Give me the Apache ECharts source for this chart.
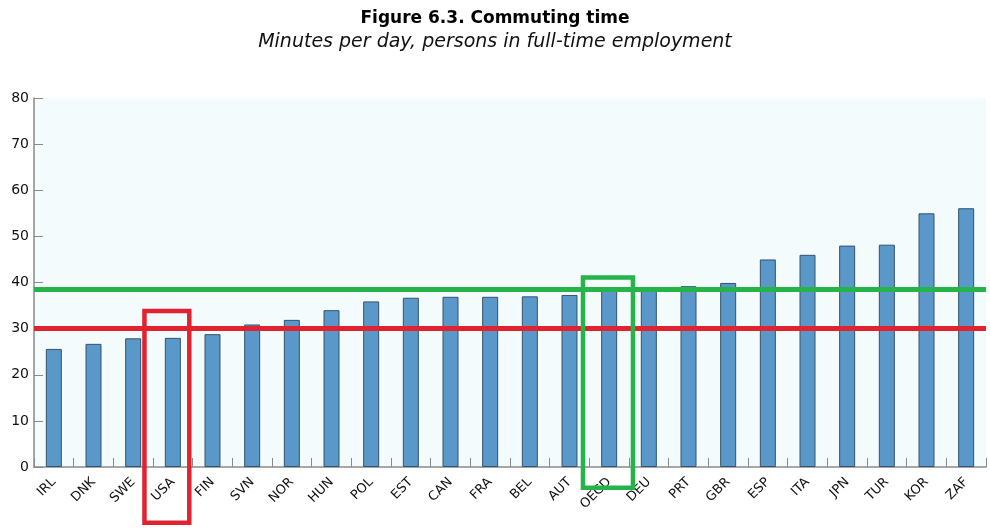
<!DOCTYPE html>
<html>
<head>
<meta charset="utf-8">
<script src="https://cdn.jsdelivr.net/npm/echarts@6/dist/echarts.min.js"></script>
<style>
html,body{margin:0;padding:0;background:#fff;}
#chart{width:990px;height:531px;}
</style>
</head>
<body>
<div id="chart"></div>
<script>
var categories = ['IRL','DNK','SWE','USA','FIN','SVN','NOR','HUN','POL','EST','CAN','FRA','BEL','AUT','OECD','DEU','PRT','GBR','ESP','ITA','JPN','TUR','KOR','ZAF'];
var values = [25.6, 26.7, 27.9, 28.0, 28.8, 30.9, 31.9, 34.0, 35.9, 36.7, 36.9, 36.9, 37.0, 37.3, 38.6, 38.7, 39.2, 39.9, 45.0, 46.0, 48.0, 48.2, 55.0, 56.1];
var yTicks = [0, 10, 20, 30, 40, 50, 60, 70, 80];
var referenceLines = [30, 38.6];
var boxCategories = ['USA', 'OECD'];
var boxTop = [33.8, 41.1];
var boxBottom = [-12.1, -4.5];

var lineColors = ['#e0232f', '#26b34a'];
var boxStyle = [
  {color: '#e0232f', widthBands: 1.13, shiftBands: -0.15},
  {color: '#26b34a', widthBands: 1.26, shiftBands: -0.03}
];

var boxData = boxCategories.map(function (c, i) {
  return [categories.indexOf(c), boxTop[i], boxBottom[i]];
});

var chart = echarts.init(document.getElementById('chart'), null, {renderer: 'canvas'});
chart.setOption({
  animation: false,
  backgroundColor: '#ffffff',
  title: {
    text: 'Figure 6.3. Commuting time',
    subtext: 'Minutes per day, persons in full-time employment',
    left: 'center',
    top: 5,
    itemGap: 6,
    textStyle: {fontFamily: 'DejaVu Sans', fontWeight: 'bold', fontSize: 17, color: '#000'},
    subtextStyle: {fontFamily: 'DejaVu Sans', fontStyle: 'italic', fontSize: 19, color: '#111'}
  },
  grid: {
    left: 34, right: 4, top: 98, bottom: 64,
    show: true, backgroundColor: '#f4fbfd', borderWidth: 0
  },
  xAxis: {
    type: 'category',
    data: categories,
    axisLine: {lineStyle: {color: '#8a8a8a', width: 1.5}},
    axisTick: {show: true, inside: true, length: 9, lineStyle: {color: '#8a8a8a'}},
    axisLabel: {rotate: 45, interval: 0, margin: 13, fontFamily: 'DejaVu Sans', fontSize: 13, color: '#111'},
    splitLine: {show: false}
  },
  yAxis: {
    type: 'value',
    min: yTicks[0],
    max: yTicks[yTicks.length - 1],
    interval: yTicks[1] - yTicks[0],
    axisLine: {show: true, lineStyle: {color: '#8a8a8a', width: 1.5}},
    axisTick: {show: true, inside: true, length: 9, lineStyle: {color: '#8a8a8a'}},
    axisLabel: {margin: 5, fontFamily: 'DejaVu Sans', fontSize: 14, color: '#111'},
    splitLine: {show: false}
  },
  series: [
    {
      type: 'bar',
      data: values,
      barWidth: 16,
      itemStyle: {color: '#5b98ca', borderColor: '#34526e', borderWidth: 1},
      markLine: {
        silent: true,
        symbol: 'none',
        label: {show: false},
        data: referenceLines.map(function (v, i) {
          return {yAxis: v, lineStyle: {color: lineColors[i], width: 5, type: 'solid'}};
        })
      }
    },
    {
      type: 'custom',
      clip: false,
      silent: true,
      encode: {x: 0, y: [1, 2]},
      data: boxData,
      z: 5,
      renderItem: function (params, api) {
        var st = boxStyle[params.dataIndex];
        var ci = api.value(0);
        var pTop = api.coord([ci, api.value(1)]);
        var pBot = api.coord([ci, api.value(2)]);
        var band = api.size([1, 0])[0];
        var w = band * st.widthBands;
        var cx = pTop[0] + band * st.shiftBands;
        return {
          type: 'rect',
          shape: {x: cx - w / 2, y: pTop[1], width: w, height: pBot[1] - pTop[1]},
          style: {fill: 'none', stroke: st.color, lineWidth: 4.5}
        };
      }
    }
  ]
});
</script>
</body>
</html>
